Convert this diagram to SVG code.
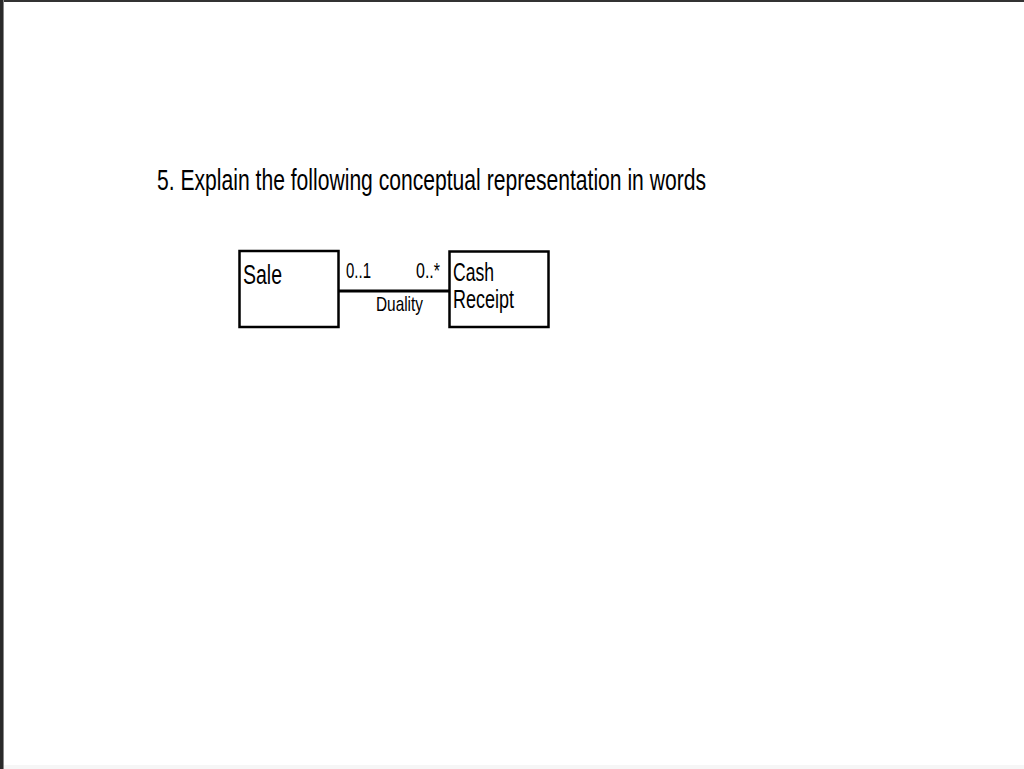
<svg xmlns="http://www.w3.org/2000/svg" width="1024" height="769" viewBox="0 0 1024 769">
<style>
.t{font-family:"Liberation Sans",Arial,sans-serif;fill:#000}
.box{fill:#fff;stroke:#000;stroke-width:2.5}
.conn{stroke:#000;stroke-width:3;fill:none}
</style>
<rect x="0" y="0" width="1024" height="769" fill="#fff"/>
<rect x="0" y="0" width="1024" height="2" fill="#333"/>
<rect x="0" y="0" width="3" height="769" fill="#2a2a2a"/>
<rect x="3" y="0" width="1" height="769" fill="#888"/>
<rect x="4" y="765" width="1020" height="4" fill="#f6f6f6"/>
<text class="t" x="157" y="190" font-size="29" textLength="549" lengthAdjust="spacingAndGlyphs">5. Explain the following conceptual representation in words</text>
<g id="connectors">
<line class="conn" x1="338" y1="291" x2="449" y2="291"/>
<text class="t" x="346" y="278" font-size="22" textLength="25" lengthAdjust="spacingAndGlyphs">0..1</text>
<text class="t" x="416" y="278" font-size="22" textLength="24" lengthAdjust="spacingAndGlyphs">0..*</text>
<text class="t" x="376" y="311" font-size="21" textLength="47" lengthAdjust="spacingAndGlyphs">Duality</text>
</g>
<g id="sale">
<rect class="box" x="239.5" y="251" width="99" height="76"/>
<text class="t" x="243" y="284" font-size="27" textLength="39" lengthAdjust="spacingAndGlyphs">Sale</text>
</g>
<g id="cash-receipt">
<rect class="box" x="449.5" y="251.5" width="99" height="75.5"/>
<text class="t" x="453" y="281" font-size="25" textLength="41" lengthAdjust="spacingAndGlyphs">Cash</text>
<text class="t" x="453" y="308" font-size="25" textLength="61" lengthAdjust="spacingAndGlyphs">Receipt</text>
</g>
</svg>
